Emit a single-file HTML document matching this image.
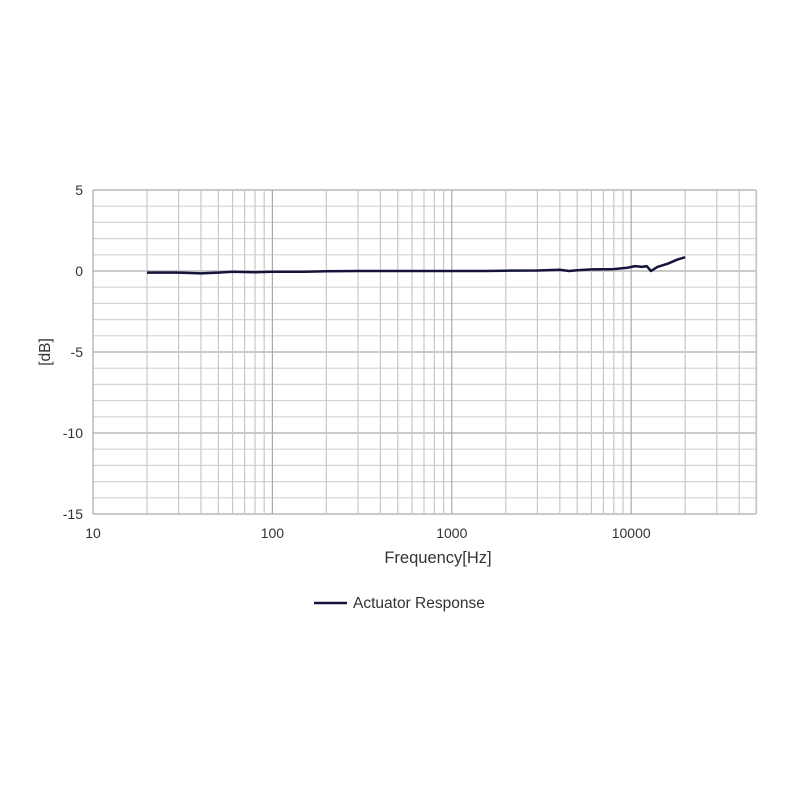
<!DOCTYPE html>
<html><head><meta charset="utf-8"><style>
body{margin:0;background:#fff;width:800px;height:800px;overflow:hidden}
svg text{font-family:"Liberation Sans",sans-serif;fill:#333}
</style></head><body>
<svg id="s" width="800" height="800" xmlns="http://www.w3.org/2000/svg"></svg>
<script>
var s=document.getElementById('s'),L=93,R=756,T=190,B=514,D=179.4;
function X(f){return L+(Math.log10(f)-1)*D}
function Y(v){return 271-v*16.2}
var h='';
for(var v=-15;v<=5;v++){var maj=v%5==0;h+='<line x1="'+L+'" x2="'+R+'" y1="'+Y(v)+'" y2="'+Y(v)+'" stroke="'+(maj?'#aaa':'#d4d4d4')+'" stroke-width="1.2"/>';}
for(var e=1;e<=4;e++)for(var m=1;m<=9;m++){var f=m*Math.pow(10,e);if(f>50000)break;var x=X(f);h+='<line x1="'+x+'" x2="'+x+'" y1="'+T+'" y2="'+B+'" stroke="'+(m==1?'#aaa':'#c8c8c8')+'" stroke-width="1.2"/>';}
h+='<line x1="'+R+'" x2="'+R+'" y1="'+T+'" y2="'+B+'" stroke="#c8c8c8" stroke-width="1.2"/>';
[5,0,-5,-10,-15].forEach(function(v){h+='<text x="83" y="'+(Y(v)+5)+'" font-size="14" text-anchor="end">'+v+'</text>'});
[10,100,1000,10000].forEach(function(f){h+='<text x="'+X(f)+'" y="538" font-size="14" text-anchor="middle">'+f+'</text>'});
h+='<text x="438" y="563" font-size="16.5" text-anchor="middle">Frequency[Hz]</text>';
h+='<text transform="translate(50,352) rotate(-90)" font-size="15.5" text-anchor="middle">[dB]</text>';
var pts=[[20,-.1],[30,-.1],[40,-.15],[50,-.1],[60,-.05],[80,-.08],[100,-.05],[150,-.05],[200,-.02],[300,0],[500,0],[700,0],[1000,0],[1500,0],[2000,.02],[3000,.03],[4000,.08],[4500,0],[5000,.05],[6000,.1],[8000,.12],[9500,.2],[10500,.3],[11500,.25],[12200,.3],[12900,0],[14000,.25],[16000,.45],[18000,.7],[20000,.85]];
h+='<polyline fill="none" stroke="#14143c" stroke-width="2.5" stroke-linejoin="round" points="'+pts.map(function(p){return X(p[0]).toFixed(1)+','+Y(p[1]).toFixed(1)}).join(' ')+'"/>';
h+='<line x1="314" x2="347" y1="603" y2="603" stroke="#14143c" stroke-width="2.5"/><text x="353" y="608" font-size="15.5">Actuator Response</text>';
s.innerHTML=h;
</script>
</body></html>
